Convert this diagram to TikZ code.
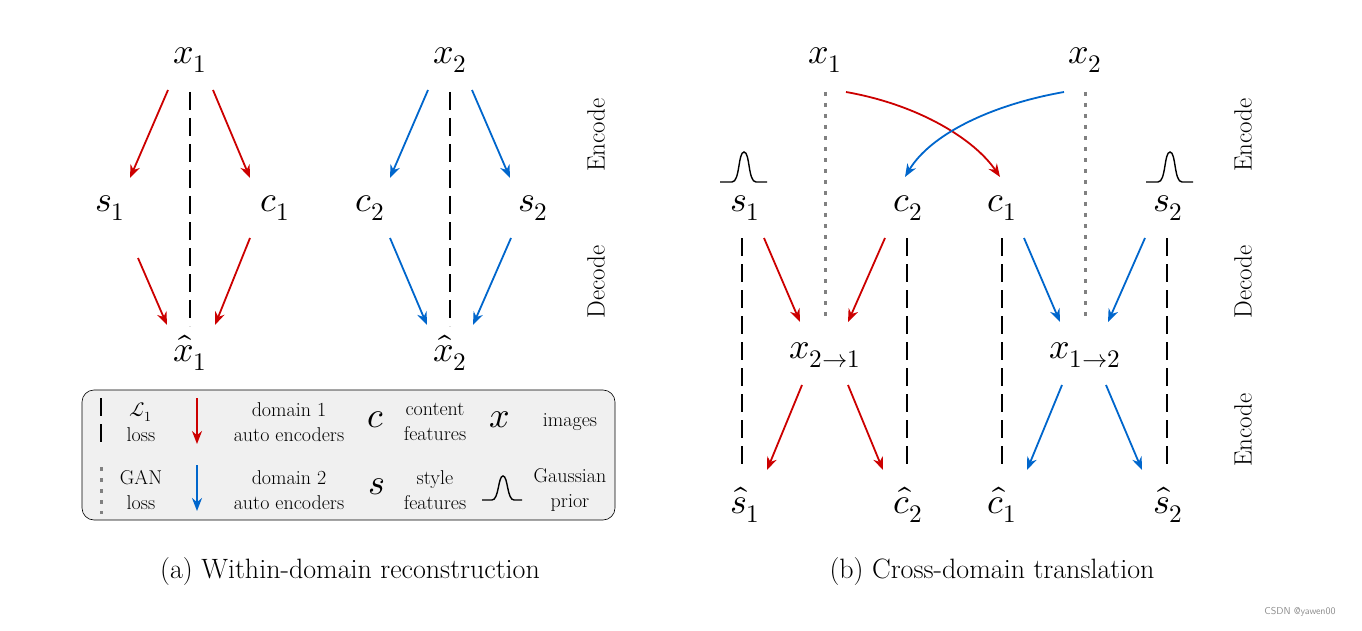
\documentclass[tikz,border=0pt]{standalone}
\usepackage{amsmath}
\usepackage{unicode-math}
\usetikzlibrary{arrows.meta}
\definecolor{myred}{RGB}{204,0,0}
\definecolor{myblue}{RGB}{0,102,204}
\begin{document}
\begin{tikzpicture}[x=1pt,y=-1pt,
  lbl/.style={font=\fontsize{36}{40}\selectfont},
  sm/.style={font=\fontsize{20}{25}\selectfont,align=center},
  captxt/.style={font=\fontsize{28}{32}\selectfont},
  side/.style={font=\fontsize{25}{28}\selectfont,rotate=90},
  ar/.style={line width=1.8pt,-{Stealth[length=13pt,width=10pt]}},
  ra/.style={ar,myred}, ba/.style={ar,myblue},
  l1/.style={line width=2.2pt,dash pattern=on 18pt off 8pt},
  gan/.style={line width=3pt,gray,dash pattern=on 4pt off 7pt},
  gs/.style={line width=1.4pt}]
\useasboundingbox (0,0) rectangle (1362,631);
% ---- panel (a)
\node[lbl] (ax1) at (190,60) {$x_1$};
\node[lbl] (as1) at (110,208) {$s_1$};
\node[lbl] (ac1) at (275,208) {$c_1$};
\node[lbl] (ah1) at (190,353) {$\hat{x}_1$};
\node[lbl] (ax2) at (450,60) {$x_2$};
\node[lbl] (ac2) at (370,208) {$c_2$};
\node[lbl] (as2) at (533,208) {$s_2$};
\node[lbl] (ah2) at (450,353) {$\hat{x}_2$};
\draw[l1] (190,92) -- (190,326);
\draw[l1] (450,92) -- (450,326);
\draw[ra] (168,90) -- (130,178);
\draw[ra] (213,90) -- (250,178);
\draw[ra] (138,258) -- (167,325);
\draw[ra] (250,238) -- (215,325);
\draw[ba] (428,90) -- (390,178);
\draw[ba] (472,90) -- (510,178);
\draw[ba] (390,238) -- (427,325);
\draw[ba] (511,238) -- (473,325);
\node[side] (ae) at (596,135) {Encode};
\node[side] (ad) at (596,282) {Decode};
% legend
\draw[rounded corners=12pt,fill=black!6,line width=0.6pt] (82,390) rectangle (615,520);
\draw[l1] (101,398) -- (101,446);
\node[sm] (lg1) at (141,422) {$\mathcal{L}_1$\\loss};
\draw[ra] (197,398) -- (197,444);
\node[sm] (lg2) at (289,422) {domain 1\\auto encoders};
\node[lbl] (lg3) at (376,420) {$c$};
\node[sm] (lg4) at (435,422) {content\\features};
\node[lbl] (lg5) at (500,420) {$x$};
\node[sm] (lg6) at (570,422) {images};
\draw[gan] (101,467) -- (101,514);
\node[sm] (lg7) at (141,490) {GAN\\loss};
\draw[ba] (197,465) -- (197,511);
\node[sm] (lg8) at (289,490) {domain 2\\auto encoders};
\node[lbl] (lg9) at (377,487) {$s$};
\node[sm] (lg10) at (435,490) {style\\features};
\draw[gs] (482,500) -- (492,500) .. controls (499,500) and (498,476) .. (503,476) .. controls (508,476) and (507,500) .. (514,500) -- (522,500);
\node[sm] (lg11) at (570,490) {Gaussian\\prior};
\node[captxt] (capa) at (350,572) {(a) Within-domain reconstruction};
% ---- panel (b)
\node[lbl] (bx1) at (825,60) {$x_1$};
\node[lbl] (bx2) at (1085,60) {$x_2$};
\node[lbl] (bs1) at (745,208) {$s_1$};
\node[lbl] (bc2) at (908,208) {$c_2$};
\node[lbl] (bc1) at (1002,208) {$c_1$};
\node[lbl] (bs2) at (1168,208) {$s_2$};
\draw[gs] (720,182) -- (732,182) .. controls (740,182) and (738,152) .. (744,152) .. controls (750,152) and (748,182) .. (756,182) -- (767,182);
\draw[gs] (1146,182) -- (1158,182) .. controls (1166,182) and (1164,152) .. (1170,152) .. controls (1176,152) and (1174,182) .. (1182,182) -- (1193,182);
\draw[gan] (825,92) -- (825,322);
\draw[gan] (1085,92) -- (1085,322);
\draw[ra] (846,92) .. controls (920,105) and (975,140) .. (1000,177);
\draw[ba] (1064,92) .. controls (990,105) and (930,135) .. (905,177);
\node[lbl] (bx21) at (825,355) {$x_{2\to1}$};
\node[lbl] (bx12) at (1085,355) {$x_{1\to2}$};
\draw[l1] (742,238) -- (742,470);
\draw[l1] (907,238) -- (907,470);
\draw[l1] (1002,238) -- (1002,470);
\draw[l1] (1167,238) -- (1167,470);
\draw[ra] (764,238) -- (800,322);
\draw[ra] (885,238) -- (848,322);
\draw[ra] (802,385) -- (767,470);
\draw[ra] (848,385) -- (883,470);
\draw[ba] (1024,238) -- (1060,322);
\draw[ba] (1145,238) -- (1108,322);
\draw[ba] (1062,385) -- (1027,470);
\draw[ba] (1106,385) -- (1142,470);
\node[lbl] (bh1) at (745,505) {$\hat{s}_1$};
\node[lbl] (bh2) at (908,505) {$\hat{c}_2$};
\node[lbl] (bh3) at (1002,505) {$\hat{c}_1$};
\node[lbl] (bh4) at (1168,505) {$\hat{s}_2$};
\node[side] (be1) at (1243,135) {Encode};
\node[side] (bd) at (1243,282) {Decode};
\node[side] (be2) at (1243,430) {Encode};
\node[captxt] (capb) at (992,572) {(b) Cross-domain translation};
\node[font=\fontsize{10}{12}\selectfont\sffamily,text=black!45] (wm) at (1300,612) {CSDN @yawen00};
\end{tikzpicture}
\end{document}
